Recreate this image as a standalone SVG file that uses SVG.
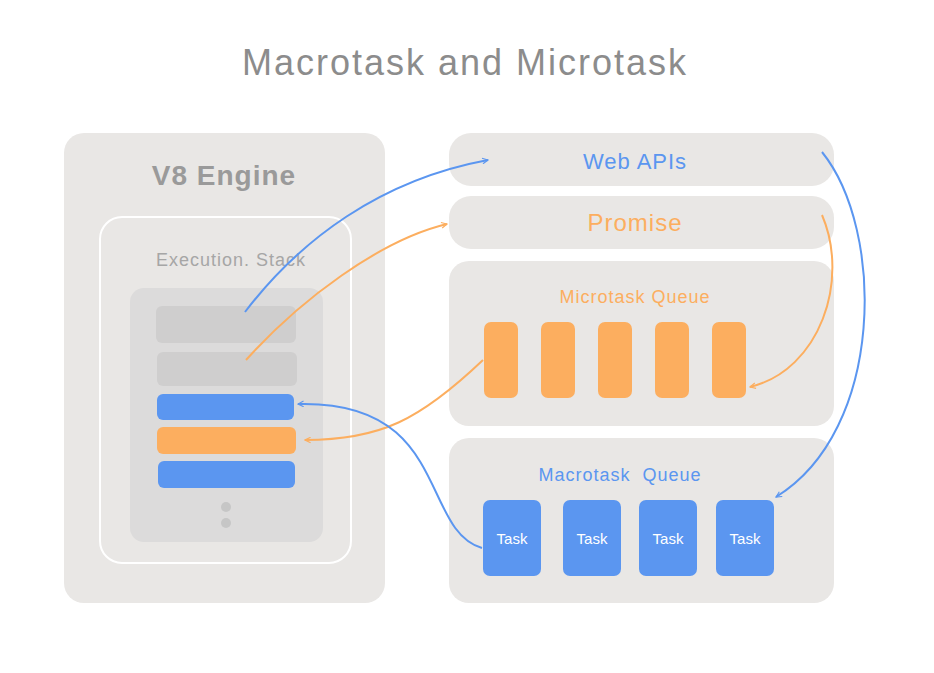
<svg xmlns="http://www.w3.org/2000/svg" width="934" height="673" viewBox="0 0 934 673">
<style>
.panel{fill:#e9e7e5}
.t{font-family:"Liberation Sans",Arial,sans-serif;text-anchor:middle;dominant-baseline:central}
.bl{fill:none;stroke:#5b96f0;stroke-width:2}
.or{fill:none;stroke:#fcae5f;stroke-width:2}
.mq{fill:#fcae5f}
.task{fill:#5b96f0}
</style>
<defs>
<marker id="ab" viewBox="0 0 10 10" refX="9" refY="5" markerWidth="7" markerHeight="7" orient="auto" markerUnits="userSpaceOnUse"><path d="M1,1 L9,5 L1,9" fill="none" stroke="#5b96f0" stroke-width="1.6"/></marker>
<marker id="ao" viewBox="0 0 10 10" refX="9" refY="5" markerWidth="7" markerHeight="7" orient="auto" markerUnits="userSpaceOnUse"><path d="M1,1 L9,5 L1,9" fill="none" stroke="#fcae5f" stroke-width="1.6"/></marker>
</defs>
<rect width="934" height="673" fill="#fff"/>
<text class="t" x="465" y="62" font-size="36" fill="#8c8c8c" letter-spacing="2">Macrotask and Microtask</text>
<g id="v8">
<rect class="panel" x="64" y="133" width="321" height="470" rx="20"/>
<text class="t" x="224" y="175" font-size="28" fill="#9a9a9a" font-weight="bold" letter-spacing="1">V8 Engine</text>
</g>
<g id="stack">
<rect x="100" y="217" width="251" height="346" rx="22" fill="#e9e7e5" stroke="#fff" stroke-width="2"/>
<text class="t" x="231" y="260" font-size="18" fill="#a6a6a6" letter-spacing="1">Execution. Stack</text>
<rect x="130" y="288" width="193" height="254" rx="14" fill="#dcdbdb"/>
<rect x="156" y="306" width="140" height="37" rx="6" fill="#cfcece"/>
<rect x="157" y="352" width="140" height="34" rx="6" fill="#cfcece"/>
<rect x="157" y="394" width="137" height="26" rx="6" fill="#5b96f0"/>
<rect x="157" y="427" width="139" height="27" rx="6" fill="#fcae5f"/>
<rect x="158" y="461" width="137" height="27" rx="6" fill="#5b96f0"/>
<circle cx="226" cy="507" r="5" fill="#c6c6c6"/>
<circle cx="226" cy="523" r="5" fill="#c6c6c6"/>
</g>
<g id="webapis">
<rect class="panel" x="449" y="133" width="385" height="53" rx="22"/>
<text class="t" x="635" y="161" font-size="22" fill="#5b96f0" letter-spacing="1">Web APIs</text>
</g>
<g id="promise">
<rect class="panel" x="449" y="196" width="385" height="53" rx="22"/>
<text class="t" x="635" y="222" font-size="24" fill="#fcae5f" letter-spacing="1">Promise</text>
</g>
<g id="microtask">
<rect class="panel" x="449" y="261" width="385" height="165" rx="20"/>
<text class="t" x="635" y="297" font-size="18" fill="#fcae5f" letter-spacing="1">Microtask Queue</text>
<rect class="mq" x="484" y="322" width="34" height="76" rx="7"/>
<rect class="mq" x="541" y="322" width="34" height="76" rx="7"/>
<rect class="mq" x="598" y="322" width="34" height="76" rx="7"/>
<rect class="mq" x="655" y="322" width="34" height="76" rx="7"/>
<rect class="mq" x="712" y="322" width="34" height="76" rx="7"/>
</g>
<g id="macrotask">
<rect class="panel" x="449" y="438" width="385" height="165" rx="20"/>
<text class="t" x="620" y="475" font-size="18" fill="#5b96f0" letter-spacing="1" xml:space="preserve">Macrotask  Queue</text>
<rect class="task" x="483" y="500" width="58" height="76" rx="7"/>
<rect class="task" x="563" y="500" width="58" height="76" rx="7"/>
<rect class="task" x="639" y="500" width="58" height="76" rx="7"/>
<rect class="task" x="716" y="500" width="58" height="76" rx="7"/>
<text class="t" x="512" y="538" font-size="15" fill="#fff">Task</text>
<text class="t" x="592" y="538" font-size="15" fill="#fff">Task</text>
<text class="t" x="668" y="538" font-size="15" fill="#fff">Task</text>
<text class="t" x="745" y="538" font-size="15" fill="#fff">Task</text>
</g>
<g id="connectors">
<path class="bl" d="M245,312 C300,240 380,180 488,160" marker-end="url(#ab)"/>
<path class="or" d="M246,360 C300,300 380,240 447,224" marker-end="url(#ao)"/>
<path class="bl" d="M822,152 C885,230 885,430 776,497" marker-end="url(#ab)"/>
<path class="or" d="M822,215 C850,280 820,370 750,387" marker-end="url(#ao)"/>
<path class="or" d="M483,360 C420,420 380,440 305,440" marker-end="url(#ao)"/>
<path class="bl" d="M482,548 C420,530 450,400 298,404" marker-end="url(#ab)"/>
</g>
</svg>
